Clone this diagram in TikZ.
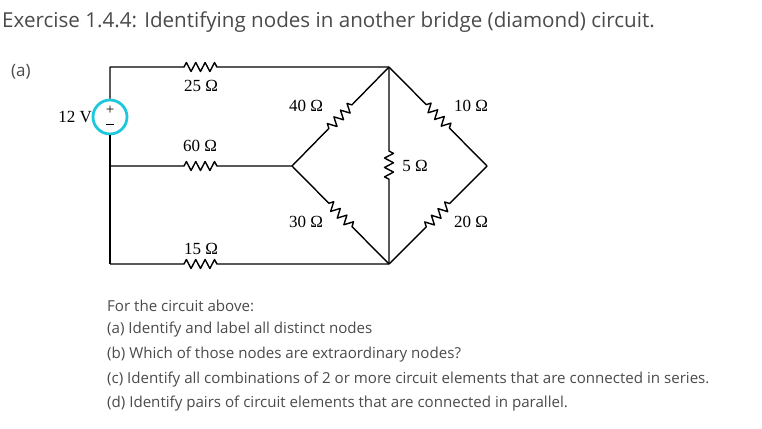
\documentclass[tikz,border=0pt]{standalone}
\usepackage{fontspec}
\setmainfont{Open Sans}
\newfontfamily\ckt{Liberation Serif}
\usetikzlibrary{decorations.pathmorphing,calc}
\definecolor{txt}{HTML}{4A4A4A}
\definecolor{src}{HTML}{1EC8DC}
\begin{document}
\begin{tikzpicture}[x=1pt,y=-1pt,
  wire/.style={line width=1.4pt,line join=round},
  res/.style={decorate,decoration={zigzag,segment length=9.4pt,amplitude=4.5pt}},
  lab/.style={font=\ckt\fontsize{17}{17}\selectfont,inner sep=0pt},
  body/.style={font=\fontsize{15.1}{18}\selectfont,color=txt,anchor=west,inner sep=0pt}]
\useasboundingbox (0,0) rectangle (762,428);
\node[body,font=\fontsize{20.6}{23}\selectfont] (title) at (2,22) {Exercise 1.4.4: Identifying nodes in another bridge (diamond) circuit.};
\node[body,font=\fontsize{17}{20}\selectfont] (pa) at (11,72) {(a)};
\coordinate (TL) at (110,67);
\coordinate (ML) at (110,166);
\coordinate (BL) at (110,264);
\coordinate (T) at (389,67);
\coordinate (B) at (389,264);
\coordinate (L) at (292,166);
\coordinate (R) at (487,166);
\node[circle,draw=src,line width=2.8pt,minimum size=34pt,inner sep=0pt] (V) at (110,117) {};
\node[font=\ckt\fontsize{15}{15}\selectfont,inner sep=0pt] (vp) at (110,110) {+};
\coordinate (m1) at (106,124);
\coordinate (m2) at (114,124);
\draw[line width=1pt] (m1) -- (m2);
\node[lab,anchor=east] (v12) at (92,117) {12 V};
% left wires
\draw[wire] (V.north) -- (TL) -- (184,67) decorate[res]{-- (217,67)} -- (T);
\draw[wire] (V.south) -- (ML) -- (BL);
\draw[wire] (ML) -- (184,166) decorate[res]{-- (217,166)} -- (L);
\draw[wire] (BL) -- (184,264) decorate[res]{-- (217,264)} -- (B);
% diamond
\draw[wire] (L) -- ($(L)!0.38!(T)$) decorate[res]{-- ($(L)!0.62!(T)$)} -- (T);
\draw[wire] (L) -- ($(L)!0.38!(B)$) decorate[res]{-- ($(L)!0.62!(B)$)} -- (B);
\draw[wire] (T) -- ($(T)!0.38!(R)$) decorate[res]{-- ($(T)!0.62!(R)$)} -- (R);
\draw[wire] (B) -- ($(B)!0.38!(R)$) decorate[res]{-- ($(B)!0.62!(R)$)} -- (R);
\draw[wire] (T) -- (389,151) decorate[res]{-- (389,183)} -- (B);
% labels
\node[lab] (l25) at (201,86) {25 Ω};
\node[lab] (l60) at (200,146) {60 Ω};
\node[lab] (l15) at (201,249) {15 Ω};
\node[lab] (l40) at (306,106) {40 Ω};
\node[lab] (l30) at (306,222) {30 Ω};
\node[lab] (l10) at (471,106) {10 Ω};
\node[lab] (l20) at (471,222) {20 Ω};
\node[lab] (l5) at (415,166) {5 Ω};
% text
\node[body] (t1) at (107,306) {For the circuit above:};
\node[body] (t2) at (107,330) {(a) Identify and label all distinct nodes};
\node[body] (t3) at (107,355) {(b) Which of those nodes are extraordinary nodes?};
\node[body] (t4) at (107,380) {(c) Identify all combinations of 2 or more circuit elements that are connected in series.};
\node[body] (t5) at (107,404) {(d) Identify pairs of circuit elements that are connected in parallel.};
\end{tikzpicture}
\end{document}
